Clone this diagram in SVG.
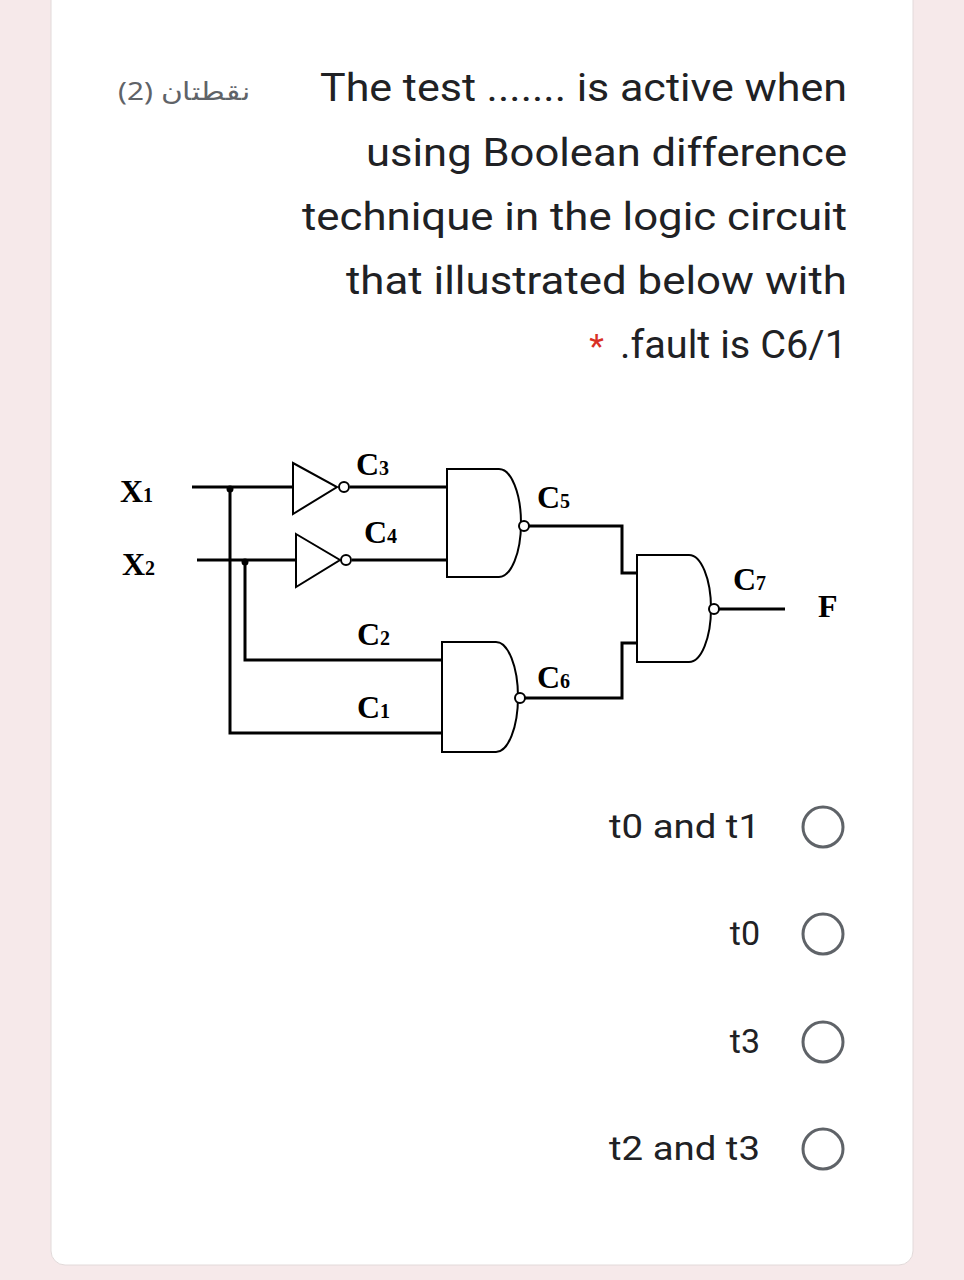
<svg xmlns="http://www.w3.org/2000/svg" width="964" height="1280" viewBox="0 0 964 1280">
<style>
.q{font-family:Roboto,"Noto Sans",sans-serif;font-size:38px;fill:#202124;text-anchor:end}
.o{font-family:Roboto,"Noto Sans",sans-serif;font-size:34px;fill:#202124;text-anchor:end}
.r{fill:none;stroke:#5f6368;stroke-width:3}
.w{fill:none;stroke:#000;stroke-width:3}
.g{fill:#fff;stroke:#000;stroke-width:2}
.l{font-family:"Liberation Serif",serif;font-weight:bold;font-size:32px;fill:#000}
.s{font-size:20px}
</style>
<rect width="964" height="1280" fill="#f6e9ea"/>
<rect x="51" y="-20" width="862" height="1285" rx="14" fill="#fff" stroke="#e2dada"/>
<g id="header">
<text x="250" y="100" font-family="'Noto Sans',sans-serif" font-size="25" fill="#5f6368" text-anchor="end" textLength="132" lengthAdjust="spacingAndGlyphs">نقطتان (2)</text>
<text class="q" x="847" y="101" textLength="527" lengthAdjust="spacingAndGlyphs">The test ....... is active when</text>
<text class="q" x="847" y="166" textLength="481" lengthAdjust="spacingAndGlyphs">using Boolean difference</text>
<text class="q" x="847" y="230" textLength="545" lengthAdjust="spacingAndGlyphs">technique in the logic circuit</text>
<text class="q" x="847" y="294" textLength="501" lengthAdjust="spacingAndGlyphs">that illustrated below with</text>
<text class="q" x="847" y="358" textLength="227" lengthAdjust="spacingAndGlyphs">.fault is C6/1</text>
<text x="604" y="358" font-family="Roboto,sans-serif" font-size="34" fill="#d93025" text-anchor="end">*</text>
</g>
<g id="connectors">
<path class="w" d="M192 487H293M350 487H447M197 560H296M352 560H447M230 487V733H442M245 560V660H442M529 526H622V573H638M525 698H622V643H638M719 609H785"/>
<circle cx="230" cy="489" r="3.5"/><circle cx="245" cy="562" r="3.5"/>
</g>
<g id="inv1"><path class="g" d="M293 463L337 487L293 514Z"/><circle class="g" cx="344" cy="487" r="5"/></g>
<g id="inv2"><path class="g" d="M296 534L340 560L296 587Z"/><circle class="g" cx="346" cy="560" r="5"/></g>
<g id="nand1"><path class="g" d="M447 469H499A22 54 0 0 1 499 577H447Z"/><circle class="g" cx="524" cy="526" r="5"/></g>
<g id="nand2"><path class="g" d="M442 642H496A22 55 0 0 1 496 752H442Z"/><circle class="g" cx="520" cy="698" r="5"/></g>
<g id="nand3"><path class="g" d="M637 555H689A22 53.5 0 0 1 689 662H637Z"/><circle class="g" cx="714" cy="609" r="5"/></g>
<g id="labels">
<text class="l" x="120" y="502">X<tspan class="s">1</tspan></text>
<text class="l" x="122" y="575">X<tspan class="s">2</tspan></text>
<text class="l" x="356" y="475">C<tspan class="s">3</tspan></text>
<text class="l" x="364" y="543">C<tspan class="s">4</tspan></text>
<text class="l" x="537" y="508">C<tspan class="s">5</tspan></text>
<text class="l" x="537" y="688">C<tspan class="s">6</tspan></text>
<text class="l" x="357" y="645">C<tspan class="s">2</tspan></text>
<text class="l" x="357" y="718">C<tspan class="s">1</tspan></text>
<text class="l" x="733" y="590">C<tspan class="s">7</tspan></text>
<text class="l" x="818" y="617">F</text>
</g>
<g id="options">
<text class="o" x="760" y="838" textLength="151" lengthAdjust="spacingAndGlyphs">t0 and t1</text><circle class="r" cx="823" cy="827" r="20"/>
<text class="o" x="760" y="945">t0</text><circle class="r" cx="823" cy="934" r="20"/>
<text class="o" x="760" y="1053">t3</text><circle class="r" cx="823" cy="1042" r="20"/>
<text class="o" x="760" y="1160" textLength="151" lengthAdjust="spacingAndGlyphs">t2 and t3</text><circle class="r" cx="823" cy="1149" r="20"/>
</g>
</svg>
